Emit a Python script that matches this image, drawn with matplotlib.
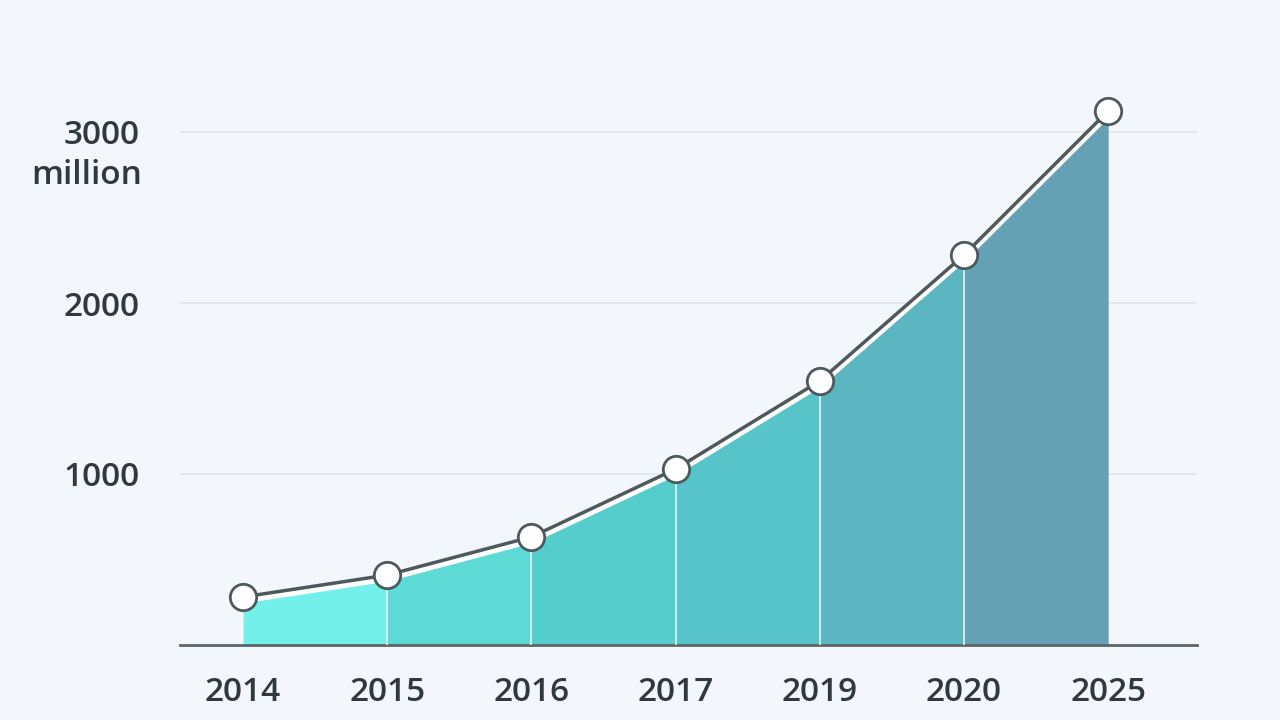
import matplotlib.pyplot as plt
import matplotlib.patheffects as pe
import matplotlib.transforms as mtransforms
import numpy as np

years = ["2014", "2015", "2016", "2017", "2019", "2020", "2025"]
values = [281, 409, 632, 1029, 1544, 2281, 3123]
seg_colors = ["#74f0ea", "#5dd9d6", "#56cdcd", "#56c4c9", "#5bb6c1", "#65a1b4"]
y_ticks = [1000, 2000, 3000]

bg = "#f3f6fa"
text_c = "#30393d"
line_c = "#4e595d"

plt.rcParams['font.family'] = ['Open Sans', 'DejaVu Sans']

fig = plt.figure(figsize=(12.8, 7.2), dpi=100, facecolor=bg)
ax = fig.add_axes([180 / 1280, 75 / 720, (1197 - 180) / 1280, 615.6 / 720])
ax.set_facecolor(bg)

x = np.arange(len(years))

# area, one colour per segment
for i in range(len(x) - 1):
    ax.fill_between(x[i:i + 2], 0, values[i:i + 2], color=seg_colors[i], lw=0, zorder=2)
# thin white separators
for i in range(1, len(x) - 1):
    ax.plot([x[i], x[i]], [0, values[i]], color="white", lw=1.2, alpha=0.8, zorder=3)

ax.plot(x, values, color=line_c, lw=2.5, zorder=4,
        path_effects=[pe.Stroke(offset=(0, -2.5), linewidth=4.5, foreground="white"), pe.Normal()])
ax.plot(x, values, 'o', ms=19, mfc="white", mec=line_c, mew=2, zorder=5)

ax.set_xlim(-0.437, 6.616)
ax.set_ylim(0, 3600)

for t in y_ticks:
    ax.axhline(t, color="#e2e6eb", lw=1.2, zorder=1)

ax.set_xticks(x)
ax.set_xticklabels(years)
ax.set_yticks(y_ticks)
ax.set_yticklabels([str(t) for t in y_ticks])
ax.tick_params(axis='x', length=0, pad=22, labelsize=24, labelcolor=text_c)
ax.tick_params(axis='y', length=0, pad=29, labelsize=24, labelcolor=text_c)
for lab in ax.get_xticklabels() + ax.get_yticklabels():
    lab.set_fontweight('semibold')

trans = mtransforms.blended_transform_factory(ax.transAxes, ax.transData)
trans = mtransforms.offset_copy(trans, fig=fig, x=0, y=-43, units='dots')
ax.text(-0.037, 3000, "million", transform=trans, ha='right', va='center',
        fontsize=24, color=text_c, fontweight='semibold')

for s in ['top', 'right', 'left']:
    ax.spines[s].set_visible(False)
ax.spines['bottom'].set_color("#5c6569")
ax.spines['bottom'].set_linewidth(2)

fig.savefig("out.png", dpi=100, facecolor=bg)
